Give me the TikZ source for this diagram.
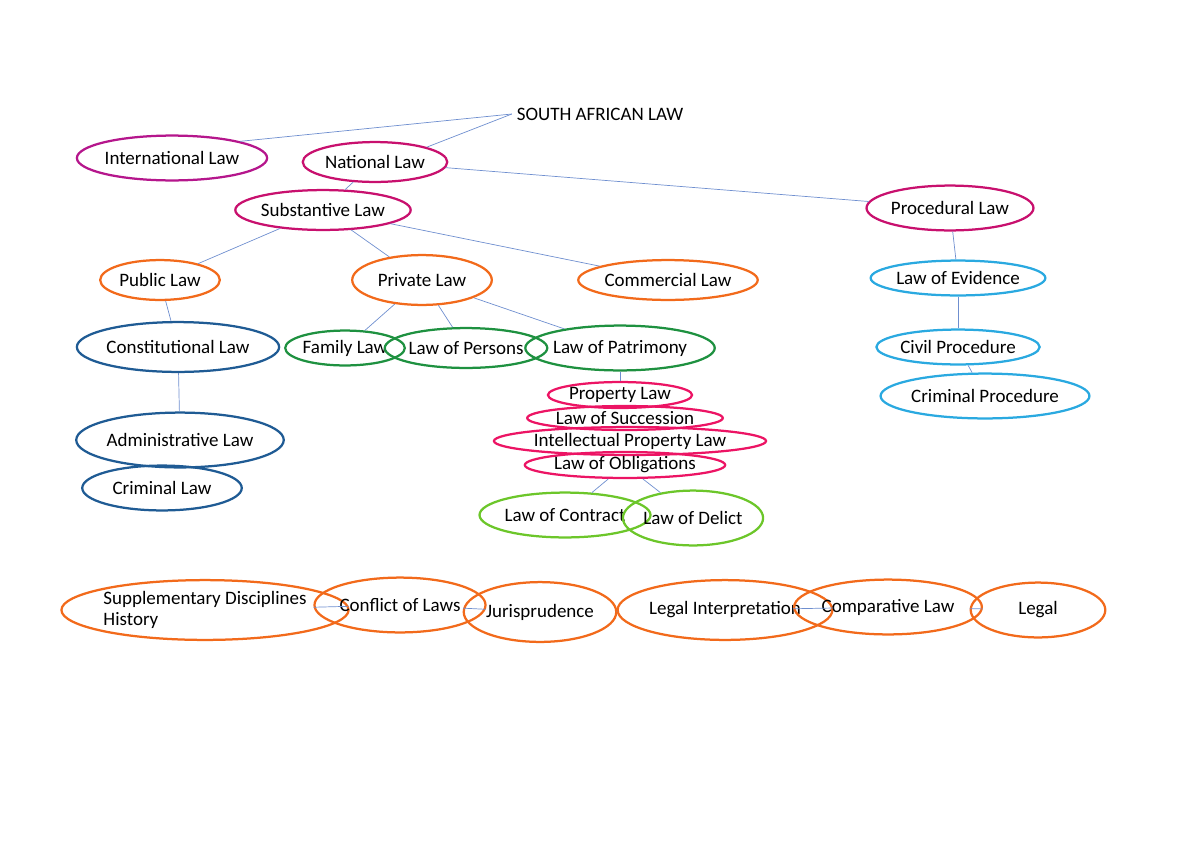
\documentclass[tikz,border=0pt]{standalone}
\usepackage{fontspec}
\setmainfont{Carlito}
\usetikzlibrary{shapes.geometric}
\definecolor{magen}{HTML}{B5168C}
\definecolor{crim}{HTML}{C8106E}
\definecolor{orng}{HTML}{F26A1B}
\definecolor{dblue}{HTML}{1F5B94}
\definecolor{grn}{HTML}{1E9140}
\definecolor{cyn}{HTML}{2AA9E0}
\definecolor{pnk}{HTML}{EC1464}
\definecolor{lime}{HTML}{6CC62A}
\definecolor{lnk}{HTML}{6F8FCF}
\tikzset{
  blob/.style={ellipse, draw=#1, line width=1.6pt, inner sep=0pt, font=\fontsize{13.5}{15}\selectfont},
  sz/.style 2 args={minimum width=#1*0.709pt, minimum height=#2*0.709pt},
  link/.style={draw=lnk, line width=0.5pt}
}
\begin{document}
\begin{tikzpicture}[x=0.025cm, y=-0.025cm]
        \useasboundingbox (0,0) rectangle (1200,849);
        \node[font=\fontsize{13.5}{15}\selectfont] (sal) at (600,114) {SOUTH AFRICAN LAW};
        \node[blob=magen, sz={190}{45}] (intl) at (172,158) {International Law};
        \node[blob=crim, sz={145}{40}] (natl) at (375,162) {National Law};
        \node[blob=crim, sz={150}{40}] (subst) at (323,210) {Substantive Law};
        \node[blob=crim, sz={165}{45}] (proc) at (950,208) {Procedural Law};

        \node[blob=orng, sz={120}{40}] (public) at (160,280) {Public Law};
        \node[blob=orng, sz={140}{50}] (private) at (422,280) {Private Law};
        \node[blob=orng, sz={170}{40}] (comm) at (668,280) {Commercial Law};
        \node[blob=cyn, sz={140}{35}] (evid) at (958,278) {Law of Evidence};

        \node[blob=dblue, sz={175}{50}] (const) at (178,347) {Constitutional Law};
        \node[blob=grn, sz={105}{35}] (family) at (345,348) {Family Law};
        \node[blob=grn, sz={130}{40}] (persons) at (466,348) {Law of Persons};
        \node[blob=grn, sz={155}{45}] (patri) at (620,348) {Law of Patrimony};
        \node[blob=cyn, sz={150}{35}] (civil) at (958,347) {Civil Procedure};
        \node[blob=cyn, sz={155}{45}] (crimproc) at (985,396) {Criminal Procedure};

        \node[blob=pnk, sz={125}{26}] (prop) at (620,395) {Property Law};
        \node[blob=pnk, sz={160}{24}] (succ) at (625,418) {Law of Succession};
        \node[blob=pnk, sz={210}{28}] (ip) at (630,441) {Intellectual Property Law};
        \node[blob=pnk, sz={165}{26}] (oblig) at (625,465) {Law of Obligations};

        \node[blob=dblue, sz={205}{55}] (admin) at (180,440) {Administrative Law};
        \node[blob=dblue, sz={160}{45}] (crim) at (162,488) {Criminal Law};

        \node[blob=lime, sz={140}{45}] (contract) at (565,515) {Law of Contract};
        \node[blob=lime, sz={125}{55}] (delict) at (693,518) {Law of Delict};

        % bottom row
        \node[blob=orng, sz={220}{60}, align=left] (supp) at (205,610) {Supplementary Disciplines\\History};
        \node[blob=orng, sz={135}{55}] (conflict) at (400,605) {Conflict of Laws};
        \node[blob=orng, sz={140}{60}] (juris) at (540,612) {Jurisprudence};
        \node[blob=orng, sz={215}{60}] (interp) at (725,610) {Legal Interpretation};
        \node[blob=orng, sz={155}{55}] (compar) at (888,607) {Comparative Law};
        \node[blob=orng, sz={135}{55}] (legal) at (1038,610) {Legal};

        \draw[link] (sal.west) -- (intl.north east);
        \draw[link] (sal.west) -- (natl.north east);
        \draw[link] (natl) -- (proc);
        \draw[link] (natl) -- (subst);
        \draw[link] (subst) -- (public);
        \draw[link] (subst) -- (private);
        \draw[link] (subst) -- (comm);
        \draw[link] (private) -- (family);
        \draw[link] (private) -- (persons);
        \draw[link] (private) -- (patri);
        \draw[link] (public) -- (const);
        \draw[link] (const) -- (admin);
        \draw[link] (proc) -- (evid);
        \draw[link] (evid) -- (civil);
        \draw[link] (civil) -- (crimproc);
        \draw[link] (patri) -- (prop);
        \draw[link] (oblig) -- (contract);
        \draw[link] (oblig) -- (delict);
        \draw[link] (supp) -- (conflict);
        \draw[link] (conflict) -- (juris);
        \draw[link] (juris) -- (interp);
        \draw[link] (interp) -- (compar);
        \draw[link] (compar) -- (legal);
\end{tikzpicture}
\end{document}
